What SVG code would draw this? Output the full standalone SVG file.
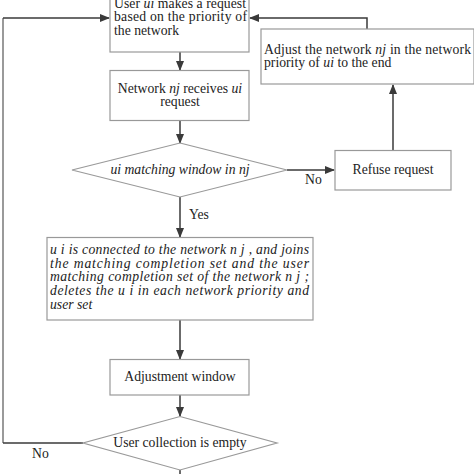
<svg xmlns="http://www.w3.org/2000/svg" width="474" height="474" viewBox="0 0 474 474">
<defs>
<marker id="ah" markerWidth="10" markerHeight="8" refX="9" refY="4" orient="auto" markerUnits="userSpaceOnUse">
<path d="M0,0 L10,4 L0,8 Z" fill="#3a3a3a"/>
</marker>
<style>
.box{fill:#fff;stroke:#999;stroke-width:1.2}
.t{font-family:"Liberation Serif","Times New Roman",serif;font-size:13.7px;fill:#222}
.i{font-style:italic}
.c{text-anchor:middle}
.ln{fill:none;stroke:#3a3a3a;stroke-width:1.5}
.lg{fill:none;stroke:#9a9a9a;stroke-width:2}
</style>
</defs>
<rect width="474" height="474" fill="#fff"/>
<g id="connectors">
<path class="lg" d="M3,443 V18"/>
<path class="ln" d="M83,443 H3"/>
<path class="ln" d="M3,18 H109" marker-end="url(#ah)"/>
<path class="ln" d="M367,29 V18 H250" marker-end="url(#ah)"/>
<path class="ln" d="M180,52 V70" marker-end="url(#ah)"/>
<path class="ln" d="M180,121 V143" marker-end="url(#ah)"/>
<path class="ln" d="M287,170 H334" marker-end="url(#ah)"/>
<path class="ln" d="M393,151 V85" marker-end="url(#ah)"/>
<path class="ln" d="M180,197 V237" marker-end="url(#ah)"/>
<path class="ln" d="M180,320 V359" marker-end="url(#ah)"/>
<path class="ln" d="M180,395 V416" marker-end="url(#ah)"/>
<path class="ln" d="M180,470 V474"/>
<text class="t" x="305" y="184">No</text>
<text class="t" x="189" y="219">Yes</text>
<text class="t" x="32" y="458">No</text>
</g>
<g id="n1">
<rect class="box" x="110" y="-3" width="139" height="55"/>
<text class="t" x="114" y="7.5" textLength="132" lengthAdjust="spacing">User <tspan class="i">ui</tspan> makes a request</text>
<text class="t" x="114" y="21" textLength="133" lengthAdjust="spacing">based on the priority of</text>
<text class="t" x="114" y="34.5">the network</text>
</g>
<g id="n2">
<rect class="box" x="110" y="70.5" width="139" height="50"/>
<text class="t c" x="180" y="93">Network <tspan class="i">nj</tspan> receives <tspan class="i">ui</tspan></text>
<text class="t c" x="180" y="106">request</text>
</g>
<g id="d1">
<polygon class="box" points="180,143 287,170 180,197 72,170"/>
<text class="t i c" x="180" y="174">ui matching window in nj</text>
</g>
<g id="n3">
<rect class="box" x="335" y="150.5" width="116" height="39.5"/>
<text class="t c" x="393" y="174">Refuse request</text>
</g>
<g id="n4">
<rect class="box" x="261" y="29" width="213" height="55"/>
<text class="t" x="264" y="54" textLength="207" lengthAdjust="spacing">Adjust the network <tspan class="i">nj</tspan> in the network</text>
<text class="t" x="264" y="67">priority of <tspan class="i">ui</tspan> to the end</text>
</g>
<g id="n5">
<rect class="box" x="47" y="237.5" width="266" height="82.5"/>
<text class="t i" x="50" y="253.5" textLength="259" lengthAdjust="spacing">u i  is connected to the network n j  , and joins</text>
<text class="t i" x="50" y="267.5" textLength="259" lengthAdjust="spacing">the matching completion set and the user</text>
<text class="t i" x="50" y="281" textLength="259" lengthAdjust="spacing">matching completion set of the network n j  ;</text>
<text class="t i" x="50" y="295" textLength="259" lengthAdjust="spacing">deletes the u i  in each network priority and</text>
<text class="t i" x="50" y="308.5">user set</text>
</g>
<g id="n6">
<rect class="box" x="110" y="359.5" width="139" height="35.5"/>
<text class="t c" x="180" y="381">Adjustment window</text>
</g>
<g id="d2">
<polygon class="box" points="180,416.5 277,443 180,470 83,443"/>
<text class="t c" x="180" y="447">User collection is empty</text>
</g>
</svg>
